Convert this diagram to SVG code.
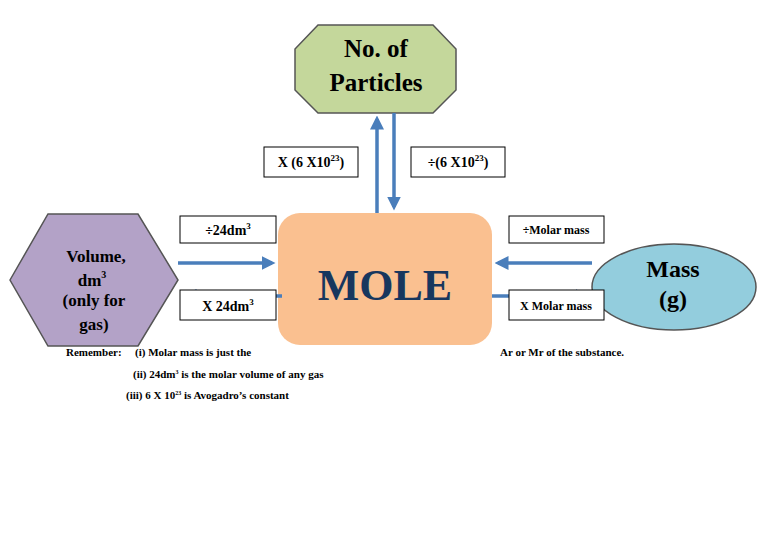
<svg xmlns="http://www.w3.org/2000/svg" width="768" height="543" viewBox="0 0 768 543">
<style>
text{font-family:"Liberation Serif",serif;font-weight:bold;fill:#000}
.lb{fill:#fff;stroke:#000;stroke-width:1}
.c{stroke:#4a7ebb;stroke-width:3.5;fill:none;marker-end:url(#ah)}
.lt{font-size:14px}
.n{font-size:11px}
</style>
<defs><marker id="ah" markerWidth="4" markerHeight="4" refX="3" refY="2" orient="auto"><path d="M0,0L4,2L0,4z" fill="#4a7ebb"/></marker></defs>
<rect width="768" height="543" fill="#fff"/>
<g id="particles"><polygon points="318,25 433,25 456,49 456,90 433,113 318,113 295,90 295,49" fill="#c4d79b" stroke="#555" stroke-width="1.5"/>
<text x="376" y="57" text-anchor="middle" font-size="25">No. of</text><text x="376" y="91" text-anchor="middle" font-size="25">Particles</text></g>
<g id="mole"><rect x="278" y="213" width="214" height="132" rx="22" fill="#fac090"/><text x="385" y="300" text-anchor="middle" font-size="44" fill="#17375e" style="fill:#17375e">MOLE</text></g>
<g id="volume"><polygon points="10,280 48,214 138,214 178,280 138,346 48,346" fill="#b3a2c7" stroke="#555" stroke-width="1.5"/>
<text text-anchor="middle" font-size="17"><tspan x="96" y="262">Volume,</tspan><tspan x="92" y="286">dm<tspan font-size="10" dy="-8">3</tspan></tspan><tspan x="94" y="306">(only for</tspan><tspan x="94" y="330">gas)</tspan></text></g>
<g id="mass"><ellipse cx="674" cy="287" rx="82" ry="43" fill="#93cddd" stroke="#555" stroke-width="1.5"/><text x="673" y="277" text-anchor="middle" font-size="24">Mass</text><text x="673" y="307" text-anchor="middle" font-size="24">(g)</text></g>
<g id="connectors">
<line class="c" x1="377" y1="213" x2="377" y2="119"/>
<line class="c" x1="394" y1="113" x2="394" y2="207"/>
<line class="c" x1="178" y1="263" x2="272" y2="263"/>
<line class="c" x1="282" y1="296" x2="186" y2="296"/>
<line class="c" x1="592" y1="263" x2="498" y2="263"/>
<line class="c" x1="492" y1="296" x2="586" y2="296"/>
</g>
<g id="labels">
<rect class="lb" x="264" y="147" width="94" height="30"/><text class="lt" x="311" y="167" text-anchor="middle">X (6 X10<tspan font-size="9" dy="-6">23</tspan><tspan dy="6">)</tspan></text>
<rect class="lb" x="411" y="147" width="94" height="30"/><text class="lt" x="458" y="167" text-anchor="middle">÷(6 X10<tspan font-size="9" dy="-6">23</tspan><tspan dy="6">)</tspan></text>
<rect class="lb" x="180" y="216" width="96" height="27"/><text class="lt" x="228" y="235" text-anchor="middle">÷24dm<tspan font-size="9" dy="-6">3</tspan></text>
<rect class="lb" x="180" y="290" width="96" height="30"/><text class="lt" x="228" y="311" text-anchor="middle">X 24dm<tspan font-size="9" dy="-6">3</tspan></text>
<rect class="lb" x="509" y="216" width="95" height="27"/><text x="556" y="234" text-anchor="middle" font-size="12">÷Molar mass</text>
<rect class="lb" x="509" y="290" width="95" height="30"/><text x="556" y="310" text-anchor="middle" font-size="12">X Molar mass</text>
</g>
<g id="notes" class="n">
<text class="n" x="66" y="356">Remember:</text>
<text class="n" x="135" y="356">(i) Molar mass is just the</text>
<text class="n" x="500" y="356">Ar or Mr of the substance.</text>
<text class="n" x="133" y="378">(ii) 24dm<tspan font-size="6" dy="-4">3</tspan><tspan dy="4"> is the molar volume of any gas</tspan></text>
<text class="n" x="126" y="399">(iii) 6 X 10<tspan font-size="6" dy="-4">23</tspan><tspan dy="4"> is Avogadro’s constant</tspan></text>
</g>
</svg>
